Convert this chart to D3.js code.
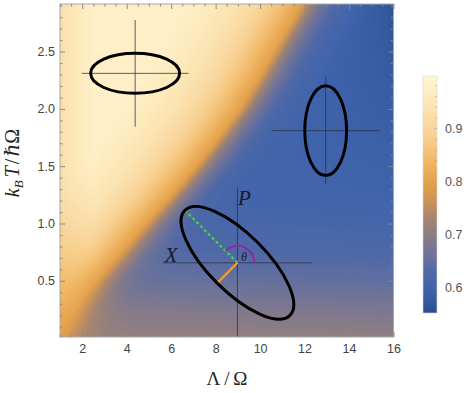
<!DOCTYPE html>
<html>
<head>
<meta charset="utf-8">
<script src="https://cdn.jsdelivr.net/npm/d3@7"></script>
<style>
  body { margin: 0; background: #fff; }
  svg { display: block; }
</style>
</head>
<body>
<svg id="chart" width="474" height="393"></svg>
<script>
(() => {
  'use strict';

  // ---- data ----
  // density field, sampled along rows of constant k_B T / hbar Omega
  const rowT       = [0, 0.25, 0.5, 0.75, 1.0, 1.25, 1.5, 1.75, 2.0, 2.25, 2.5, 2.75, 3.0];
  const bandCentre = [1.1, 1.7, 2.6, 3.75, 4.85, 6.0, 7.1, 8.1, 9.05, 9.85, 10.6, 11.35, 12.1]; // Lambda of the orange ridge
  const peakLevel  = [0.79, 0.80, 0.80, 0.80, 0.80, 0.80, 0.80, 0.80, 0.80, 0.80, 0.80, 0.80, 0.80];
  const blueNear   = [0.71, 0.69, 0.655, 0.63, 0.615, 0.607, 0.605, 0.605, 0.605, 0.605, 0.605, 0.605, 0.605];
  const blueFar    = [0.705, 0.68, 0.645, 0.625, 0.61, 0.60, 0.595, 0.59, 0.585, 0.58, 0.575, 0.57, 0.565];
  const edgeLevel  = [0.88, 0.88, 0.89, 0.90, 0.91, 0.92, 0.925, 0.925, 0.925, 0.925, 0.925, 0.925, 0.925];
  const creamLevel = 0.975;
  // cross-section of the ridge (distance in Lambda from the ridge -> blend weight)
  const leftOffset  = [0, 0.5, 1, 1.5, 2, 3, 4, 5];
  const leftWeight  = [0, 0.17, 0.33, 0.48, 0.6, 0.78, 0.9, 1];
  const rightOffset = [0, 0.5, 1, 1.5, 2, 3];
  const rightWeight = [0, 0.42, 0.7, 0.86, 0.95, 1];

  // colour map
  const colourStops = [0.552, 0.58, 0.60, 0.63, 0.65, 0.68, 0.70, 0.73, 0.76, 0.79, 0.81, 0.84, 0.87, 0.90, 0.93, 0.96, 0.998];
  const colourHex   = ["#2a4d8c", "#375ca4", "#4064ac", "#5169a6", "#64709e", "#7b7791", "#8c7d84", "#a6856f",
                       "#c8925a", "#e09e4a", "#e9a852", "#f1b968", "#f6c984", "#f9d69c", "#fbe1ae", "#fdebbe", "#fff6d4"];
  const colourRange = [0.552, 0.998];

  const xTicks  = [2, 4, 6, 8, 10, 12, 14, 16];
  const yTicks  = [0.5, 1.0, 1.5, 2.0, 2.5];
  const cbTicks = [0.6, 0.7, 0.8, 0.9];

  // ellipses: centre, semi-axes (in Lambda units), tilt in degrees, crosshair half length
  const ellLambda = [4.38, 12.95, 8.98];
  const ellT      = [2.31, 1.81, 0.657];
  const ellMajor  = [2.0, 2.02, 3.34];
  const ellMinor  = [0.9, 0.94, 1.29];
  const ellAngle  = [0, 90, 135];
  const crossHalf = [2.4, 2.42, 3.36];

  // ---- layout ----
  const plot = {left: 60, right: 393.5, top: 4, bottom: 337};
  const svg = d3.select("#chart");

  const x = d3.scaleLinear().domain([1, 16]).range([plot.left, plot.right]);
  const y = d3.scaleLinear().domain([0.01, 2.915]).range([plot.bottom, plot.top]);

  const colour = d3.scaleLinear().domain(colourStops).range(colourHex)
    .interpolate(d3.interpolateRgb).clamp(true);

  const rowScale = arr => d3.scaleLinear().domain(rowT).range(arr).clamp(true);
  const centreAt = rowScale(bandCentre), peakAt = rowScale(peakLevel),
        nearAt = rowScale(blueNear), farAt = rowScale(blueFar), edgeAt = rowScale(edgeLevel);
  const leftW = d3.scaleLinear().domain(leftOffset).range(leftWeight).clamp(true);
  const rightW = d3.scaleLinear().domain(rightOffset).range(rightWeight).clamp(true);

  function field(lam, t) {
    let c = centreAt(t), pk = peakAt(t), d = lam - c;
    if (d <= 0) {
      let f = Math.min(1, Math.max(0, (lam - 1) / 1.5));
      let cream = edgeAt(t) + (creamLevel - edgeAt(t)) * f;
      return pk + (cream - pk) * leftW(-d);
    }
    let near = nearAt(t), far = farAt(t);
    let blue = d <= 2 ? near : near + (far - near) * Math.min(1, (d - 2) / Math.max(0.5, 16 - c - 2));
    return pk + (blue - pk) * rightW(d);
  }

  // density image
  let cw = Math.round(plot.right - plot.left), ch = Math.round(plot.bottom - plot.top);
  let canvas = document.createElement("canvas");
  canvas.width = cw; canvas.height = ch;
  let ctx = canvas.getContext("2d");
  let img = ctx.createImageData(cw, ch);
  for (let j = 0; j < ch; j++) {
    let t = y.invert(plot.top + j + 0.5);
    for (let i = 0; i < cw; i++) {
      let lam = x.invert(plot.left + i + 0.5);
      let c = d3.rgb(colour(field(lam, t)));
      let k = (j * cw + i) * 4;
      img.data[k] = c.r; img.data[k + 1] = c.g; img.data[k + 2] = c.b; img.data[k + 3] = 255;
    }
  }
  ctx.putImageData(img, 0, 0);
  svg.append("image")
    .attr("x", plot.left).attr("y", plot.top)
    .attr("width", plot.right - plot.left).attr("height", plot.bottom - plot.top)
    .attr("preserveAspectRatio", "none")
    .attr("href", canvas.toDataURL());

  svg.append("clipPath").attr("id", "plot-clip")
    .append("rect")
    .attr("x", plot.left).attr("y", plot.top)
    .attr("width", plot.right - plot.left).attr("height", plot.bottom - plot.top);

  // ---- ellipses and crosshairs ----
  const unit = x(2) - x(1);
  let ells = ellLambda.map((l, i) => ({
    cx: x(l), cy: y(ellT[i]), a: ellMajor[i] * unit, b: ellMinor[i] * unit,
    ang: ellAngle[i], h: crossHalf[i] * unit
  }));

  let over = svg.append("g").attr("clip-path", "url(#plot-clip)");

  ells.forEach(e => {
    over.append("line")
      .attr("x1", e.cx - e.h).attr("x2", e.cx + e.h).attr("y1", e.cy).attr("y2", e.cy)
      .attr("stroke", "rgba(45,45,60,0.75)").attr("stroke-width", 1);
    over.append("line")
      .attr("x1", e.cx).attr("x2", e.cx).attr("y1", e.cy - e.h).attr("y2", e.cy + e.h)
      .attr("stroke", "rgba(45,45,60,0.75)").attr("stroke-width", 1);
  });

  // annotations on the tilted ellipse
  let e3 = ells[2];
  let rad = Math.PI / 180;
  over.append("line")
    .attr("x1", e3.cx).attr("y1", e3.cy)
    .attr("x2", e3.cx + e3.a * Math.cos(e3.ang * rad))
    .attr("y2", e3.cy - e3.a * Math.sin(e3.ang * rad))
    .attr("stroke", "#3fd83f").attr("stroke-width", 2.2).attr("stroke-dasharray", "3,2.5");
  over.append("line")
    .attr("x1", e3.cx).attr("y1", e3.cy)
    .attr("x2", e3.cx + e3.b * Math.cos((e3.ang + 90) * rad))
    .attr("y2", e3.cy - e3.b * Math.sin((e3.ang + 90) * rad))
    .attr("stroke", "#f0a030").attr("stroke-width", 2.2);
  let arcPath = d3.path();
  arcPath.arc(e3.cx, e3.cy, 17, 0, -e3.ang * rad, true);
  over.append("path").attr("d", arcPath.toString())
    .attr("fill", "none").attr("stroke", "#8e2a9c").attr("stroke-width", 2);

  ells.forEach(e => {
    over.append("ellipse")
      .attr("rx", e.a).attr("ry", e.b)
      .attr("transform", `translate(${e.cx},${e.cy}) rotate(${-e.ang})`)
      .attr("fill", "none").attr("stroke", "#000").attr("stroke-width", 3);
  });

  const serif = "'Liberation Serif', 'DejaVu Serif', serif";
  svg.append("text").attr("x", e3.cx - e3.h + 2).attr("y", e3.cy - 1)
    .style("font-family", serif).style("font-style", "italic").style("font-size", "21px")
    .attr("fill", "#1a1a2a").text("X");
  svg.append("text").attr("x", e3.cx + 0.5).attr("y", e3.cy - e3.h + 17)
    .style("font-family", serif).style("font-style", "italic").style("font-size", "21px")
    .attr("fill", "#1a1a2a").text("P");
  svg.append("text").attr("x", e3.cx + 3.5).attr("y", e3.cy - 1.5)
    .style("font-family", serif).style("font-style", "italic").style("font-size", "12px")
    .attr("fill", "#1a1a2a").text("θ");

  // ---- frame and ticks ----
  const sans = "'Liberation Sans', Arial, sans-serif";
  svg.append("rect")
    .attr("x", plot.left).attr("y", plot.top)
    .attr("width", plot.right - plot.left).attr("height", plot.bottom - plot.top)
    .attr("fill", "none").attr("stroke", "#a8a8a8").attr("stroke-width", 1);

  let xMinor = d3.range(1, 16.001, 0.5).filter(v => !xTicks.includes(v));
  let yMinor = d3.range(1, 30).map(v => v / 10).filter(v => v <= 2.91 && Math.abs(v * 2 - Math.round(v * 2)) > 1e-6);

  function frameAxis(axis, pos, major, minor, fmt) {
    let g = svg.append("g").attr("transform", pos);
    g.call(axis.tickValues(minor).tickSizeInner(-2.5).tickSizeOuter(0).tickFormat(""));
    let g2 = svg.append("g").attr("transform", pos);
    g2.call(axis.tickValues(major).tickSizeInner(-5).tickSizeOuter(0)
      .tickFormat(fmt ? d3.format(fmt) : ""));
    [g, g2].forEach(s => {
      s.select(".domain").remove();
      s.selectAll(".tick line").attr("stroke", "#8a8a8a");
      s.selectAll("text").style("font-family", sans).style("font-size", "12.5px").attr("fill", "#444");
    });
    return g2;
  }

  frameAxis(d3.axisBottom(x).tickPadding(7), `translate(0,${plot.bottom})`, xTicks, xMinor, "d");
  frameAxis(d3.axisTop(x), `translate(0,${plot.top})`, xTicks, xMinor, null);
  frameAxis(d3.axisLeft(y).tickPadding(5), `translate(${plot.left},0)`, yTicks, yMinor, ".1f");
  frameAxis(d3.axisRight(y), `translate(${plot.right},0)`, yTicks, yMinor, null);

  // axis titles
  svg.append("text").attr("x", 227).attr("y", 384.5).attr("text-anchor", "middle")
    .style("font-family", serif).style("font-size", "19px").attr("fill", "#222")
    .text("Λ\u2009/\u2009Ω");

  let yt = svg.append("text").attr("transform", "translate(19,163) rotate(-90)")
    .attr("text-anchor", "middle")
    .style("font-family", serif).style("font-size", "20px").attr("fill", "#222");
  yt.append("tspan").style("font-style", "italic").text("k");
  yt.append("tspan").attr("dy", 4).style("font-size", "13px").style("font-style", "italic").text("B");
  yt.append("tspan").attr("dy", -4).attr("dx", 3).style("font-style", "italic").text("T");
  yt.append("tspan").attr("dx", 2).text("/");
  yt.append("tspan").attr("dx", 2).text("ℏΩ");

  // ---- colour bar ----
  const cb = {left: 423, width: 14, top: 76, bottom: 313};
  const cbScale = d3.scaleLinear().domain(colourRange).range([cb.bottom, cb.top]);
  let grad = svg.append("defs").append("linearGradient").attr("id", "cb-grad")
    .attr("x1", 0).attr("y1", 1).attr("x2", 0).attr("y2", 0);
  colourStops.forEach((v, i) => {
    grad.append("stop")
      .attr("offset", (v - colourRange[0]) / (colourRange[1] - colourRange[0]))
      .attr("stop-color", colourHex[i]);
  });
  svg.append("rect")
    .attr("x", cb.left).attr("y", cb.top).attr("width", cb.width).attr("height", cb.bottom - cb.top)
    .attr("fill", "url(#cb-grad)").attr("stroke", "#d8d8d8").attr("stroke-width", 0.6);

  let cbMinor = d3.range(56, 100, 2).map(v => v / 100).filter(v => !cbTicks.some(t => Math.abs(t - v) < 1e-6));
  let gcb = svg.append("g").attr("transform", `translate(${cb.left + cb.width},0)`);
  gcb.call(d3.axisRight(cbScale).tickValues(cbMinor).tickSizeInner(-2).tickSizeOuter(0).tickFormat(""));
  let gcb2 = svg.append("g").attr("transform", `translate(${cb.left + cb.width},0)`);
  gcb2.call(d3.axisRight(cbScale).tickValues(cbTicks).tickSizeInner(-3.5).tickSizeOuter(0)
    .tickPadding(8).tickFormat(d3.format(".1f")));
  [gcb, gcb2].forEach(s => {
    s.select(".domain").remove();
    s.selectAll(".tick line").attr("stroke", "rgba(150,150,150,0.45)");
    s.selectAll("text").style("font-family", sans).style("font-size", "12.5px").attr("fill", "#555");
  });
})();
</script>
</body>
</html>
